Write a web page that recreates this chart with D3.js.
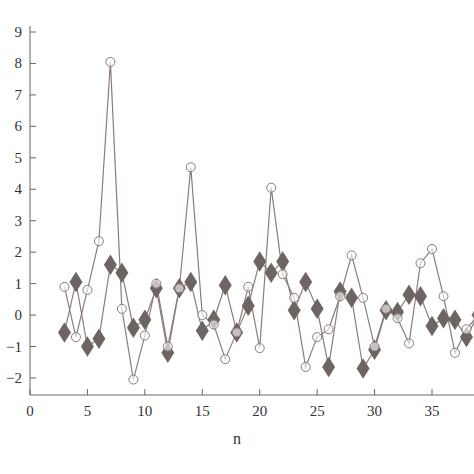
<!DOCTYPE html><html><head><script src="https://cdn.jsdelivr.net/npm/d3@7"></script>
<style>body{margin:0;background:#fff} text{font-family:'Liberation Serif','DejaVu Serif',serif}</style></head><body><svg id="c" width="474" height="474"></svg><script>
const ns=[3,4,5,6,7,8,9,10,11,12,13,14,15,16,17,18,19,20,21,22,23,24,25,26,27,28,29,30,31,32,33,34,35,36,37,38,39];
const circles=[0.9,-0.7,0.8,2.35,8.05,0.2,-2.05,-0.65,1.0,-1.0,0.85,4.7,0.0,-0.3,-1.4,-0.55,0.9,-1.05,4.05,1.3,0.55,-1.65,-0.7,-0.45,0.6,1.9,0.55,-1.0,0.2,-0.1,-0.9,1.65,2.1,0.6,-1.2,-0.45,0.0];
const diamonds=[-0.55,1.05,-1.0,-0.75,1.6,1.35,-0.4,-0.15,0.85,-1.2,0.85,1.05,-0.5,-0.15,0.95,-0.55,0.3,1.7,1.35,1.7,0.15,1.05,0.2,-1.65,0.75,0.55,-1.7,-1.1,0.15,0.1,0.65,0.6,-0.35,-0.1,-0.15,-0.7,0.0];
const xTicks=[0,5,10,15,20,25,30,35];
const yTicks=[-2,-1,0,1,2,3,4,5,6,7,8,9];
const svg=d3.select("#c");
const x=d3.scaleLinear().domain([0,35]).range([30,432]);
const y=d3.scaleLinear().domain([-2,9]).range([378,32]);
const col="#8a7d7a";
svg.append("line").attr("x1",30).attr("x2",474).attr("y1",395).attr("y2",395).attr("stroke","#666");
svg.append("line").attr("x1",30).attr("x2",30).attr("y1",26).attr("y2",395).attr("stroke","#666");
xTicks.forEach(t=>{svg.append("line").attr("x1",x(t)).attr("x2",x(t)).attr("y1",395).attr("y2",389).attr("stroke","#666");
svg.append("text").attr("x",x(t)).attr("y",416).attr("text-anchor","middle").attr("font-size",15).attr("fill","#333").text(t);});
yTicks.forEach(t=>{svg.append("line").attr("x1",30).attr("x2",36).attr("y1",y(t)).attr("y2",y(t)).attr("stroke","#666");
svg.append("text").attr("x",22).attr("y",y(t)+5).attr("text-anchor","end").attr("font-size",15).attr("fill","#333").text(t<0?"\u2212"+(-t):t);});
svg.append("text").attr("x",237).attr("y",444).attr("text-anchor","middle").attr("font-size",16).attr("fill","#333").text("n");
const g=svg.append("g").attr("clip-path","url(#cp)");
svg.append("clipPath").attr("id","cp").append("rect").attr("x",30).attr("y",0).attr("width",444).attr("height",395);
const line=d3.line().x((d,i)=>x(ns[i])).y(d=>y(d));
g.append("path").attr("d",line(circles)).attr("fill","none").attr("stroke",col).attr("stroke-width",1.2);
g.append("path").attr("d",line(diamonds)).attr("fill","none").attr("stroke",col).attr("stroke-width",1.2);
g.selectAll(".d").data(diamonds).enter().append("path").attr("d",d3.symbol(d3.symbolDiamond,110)()).attr("transform",(d,i)=>`translate(${x(ns[i])},${y(d)}) scale(1.15,1.05)`).attr("fill","#6e6462");
g.selectAll(".c").data(circles).enter().append("circle").attr("cx",(d,i)=>x(ns[i])).attr("cy",d=>y(d)).attr("r",4.5).attr("fill","#fff").attr("fill-opacity",0.6).attr("stroke",col).attr("stroke-width",1);
</script></body></html>
